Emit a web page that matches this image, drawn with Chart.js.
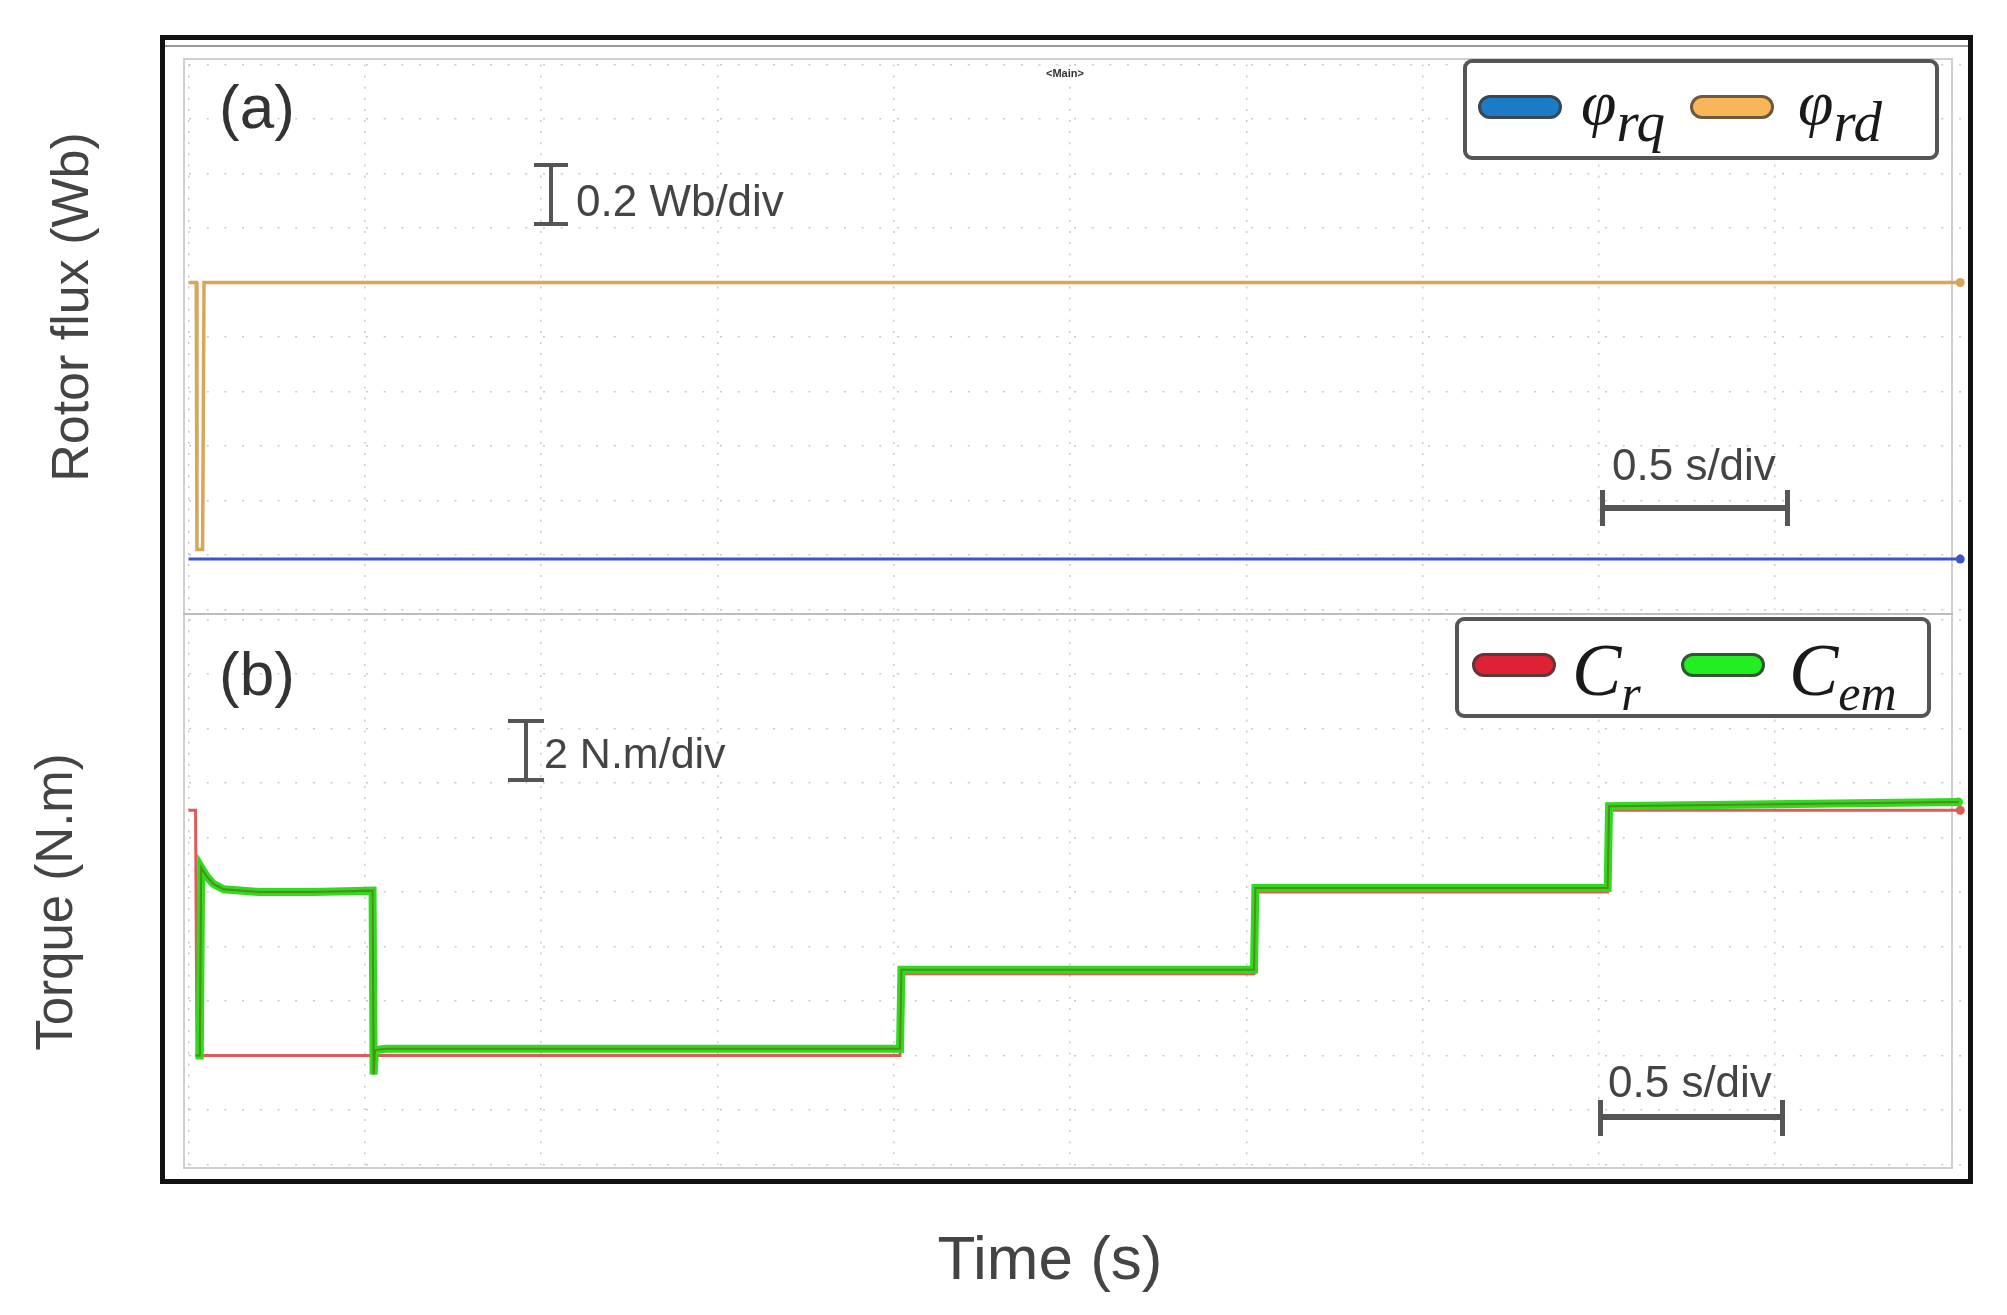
<!DOCTYPE html>
<html>
<head>
<meta charset="utf-8">
<script src="https://cdn.jsdelivr.net/npm/chart.js@4.4.1/dist/chart.umd.min.js"></script>
<style>
  html, body { margin: 0; padding: 0; background: #fff; }
  body { width: 2007px; height: 1315px; position: relative; overflow: hidden; font-family: "Liberation Sans", Arial, sans-serif; }
  .abs { position: absolute; }
  #frame { left: 160px; top: 35px; width: 1813px; height: 1149px; border: 5px solid #111; box-sizing: border-box; }
  #topline { left: 165px; top: 45px; width: 1803px; height: 2px; background: #9a9a9a; }
  #plotBorder { left: 183px; top: 58px; width: 1770px; height: 1111px; border: 2px solid #cfcfcf; box-sizing: border-box; }
  #divider { left: 183px; top: 613px; width: 1770px; height: 2px; background: #bdbdbd; }
  .wrap { left: 184px; width: 1784px; }
  .lbl { color: #444; white-space: nowrap; line-height: 1; }
  .bar { background: #555; }
  .legend { border: 4px solid #555; border-radius: 9px; background: #fff; box-sizing: border-box; }
  .sw { position: absolute; width: 84px; height: 24px; border-radius: 12px; border: 3px solid #3c4650; box-sizing: border-box; }
  .sym { position: absolute; font-family: "Liberation Serif", "DejaVu Serif", serif; font-style: italic; color: #1a1a1a; white-space: nowrap; line-height: 1; }
  .sym sub { vertical-align: baseline; position: relative; top: 0.3em; }
</style>
</head>
<body>

<div id="frame" class="abs"></div>
<div id="topline" class="abs"></div>
<div id="plotBorder" class="abs"></div>

<div class="abs wrap" style="top:60px;height:554px;"><canvas id="fluxChart" width="1784" height="554"></canvas></div>
<div class="abs wrap" style="top:615px;height:554px;"><canvas id="torqueChart" width="1784" height="554"></canvas></div>
<div id="divider" class="abs"></div>

<!-- textes panneau (a) -->
<div class="abs lbl" style="left:1046px;top:68px;font-size:11px;font-weight:bold;color:#333;">&lt;Main&gt;</div>
<div class="abs lbl" style="left:219px;top:76px;font-size:62px;color:#333;">(a)</div>
<div class="abs bar" style="left:549px;top:165px;width:4px;height:60px;"></div>
<div class="abs bar" style="left:534px;top:163px;width:34px;height:4px;"></div>
<div class="abs bar" style="left:534px;top:222px;width:34px;height:4px;"></div>
<div class="abs lbl" style="left:576px;top:179px;font-size:44px;">0.2 Wb/div</div>
<div class="abs lbl" style="left:1612px;top:443px;font-size:44px;">0.5 s/div</div>
<div class="abs bar" style="left:1602px;top:505px;width:186px;height:6px;"></div>
<div class="abs bar" style="left:1600px;top:490px;width:5px;height:36px;"></div>
<div class="abs bar" style="left:1785px;top:490px;width:5px;height:36px;"></div>

<div class="abs legend" style="left:1463px;top:59px;width:476px;height:101px;">
  <div class="sw" style="left:11px;top:32px;background:#1a7cc8;"></div>
  <div class="sym" style="left:114px;top:8px;font-size:64px;">φ<sub style="font-size:57px;">rq</sub></div>
  <div class="sw" style="left:223px;top:32px;background:#f8b55a;border-color:#6b5a40;"></div>
  <div class="sym" style="left:331px;top:8px;font-size:64px;">φ<sub style="font-size:57px;">rd</sub></div>
</div>

<!-- textes panneau (b) -->
<div class="abs lbl" style="left:219px;top:643px;font-size:62px;color:#333;">(b)</div>
<div class="abs bar" style="left:524px;top:721px;width:4px;height:60px;"></div>
<div class="abs bar" style="left:508px;top:719px;width:36px;height:4px;"></div>
<div class="abs bar" style="left:508px;top:778px;width:36px;height:4px;"></div>
<div class="abs lbl" style="left:544px;top:732px;font-size:43px;">2 N.m/div</div>
<div class="abs lbl" style="left:1608px;top:1060px;font-size:44px;">0.5 s/div</div>
<div class="abs bar" style="left:1600px;top:1114px;width:183px;height:6px;"></div>
<div class="abs bar" style="left:1598px;top:1100px;width:5px;height:36px;"></div>
<div class="abs bar" style="left:1780px;top:1100px;width:5px;height:36px;"></div>

<div class="abs legend" style="left:1455px;top:617px;width:476px;height:101px;">
  <div class="sw" style="left:13px;top:32px;background:#dd2233;border-color:#663338;"></div>
  <div class="sym" style="left:113px;top:12px;font-size:74px;">C<sub style="font-size:50px;">r</sub></div>
  <div class="sw" style="left:222px;top:32px;background:#22ee22;border-color:#335533;"></div>
  <div class="sym" style="left:330px;top:12px;font-size:74px;">C<sub style="font-size:50px;">em</sub></div>
</div>

<!-- titres d'axes -->
<div class="abs lbl" style="left:70px;top:307px;font-size:52px;transform:translate(-50%,-50%) rotate(-90deg);">Rotor flux (Wb)</div>
<div class="abs lbl" style="left:54px;top:902px;font-size:51px;transform:translate(-50%,-50%) rotate(-90deg);">Torque (N.m)</div>
<div class="abs lbl" style="left:1050px;top:1258px;font-size:62px;transform:translate(-50%,-50%);">Time (s)</div>

<script>
/* ------------------------- DATA (lue sur l'oscillogramme) ------------------------- */
// (a) flux rotorique, 0.2 Wb/div, 0.5 s/div
const phiRqT = [0, 5.025];
const phiRqV = [-0.015, -0.015];
const phiRdT = [0, 0.022, 0.024, 0.040, 0.044, 1.5, 3.0, 4.2, 5.025];
const phiRdV = [1.0, 1.0, 0.02, 0.02, 1.0, 1.0, 1.0, 1.0, 1.0];

// (b) couple, 2 N.m/div
const crT = [0, 0.02, 0.024, 2.018, 2.021, 3.022, 3.025, 4.025, 4.028, 5.025];
const crV = [9, 9, 0, 0, 3, 3, 6, 6, 9, 9];
const cemT = [0.02, 0.032, 0.036, 0.05, 0.07, 0.10, 0.20, 0.35, 0.522, 0.525, 0.529, 0.56, 2.018, 2.022, 3.022, 3.026, 4.025, 4.029, 5.02];
const cemV = [0, 0, 6.9, 6.6, 6.3, 6.1, 6.0, 6.0, 6.05, -0.7, 0.2, 0.25, 0.25, 3.15, 3.15, 6.15, 6.15, 9.15, 9.3];

// échelles : 10 divisions dans chaque sens (la trace dépasse un peu à droite)
const timeTicks = { min: 0, max: 5.03, step: 0.5 };
const fluxTicks = { min: -0.2, max: 1.8, step: 0.2 };
const torqueTicks = { min: -4, max: 16, step: 2 };

/* ------------------------- helpers ------------------------- */
const pts = (T, V) => T.map((t, i) => ({ x: t, y: V[i] }));

function trace(label, T, V, color, width, dot) {
    return {
        label,
        data: pts(T, V),
        borderColor: color,
        backgroundColor: color,
        borderWidth: width,
        pointRadius: T.map((_, i) => (dot && i === T.length - 1 ? 4.5 : 0)),
        pointHoverRadius: 0,
        pointBorderWidth: 0,
        tension: 0,
        clip: false
    };
}

function scopeOptions(yt) {
    return {
        responsive: false,
        animation: false,
        devicePixelRatio: 1,
        layout: { padding: { left: 0, right: 6, top: 0, bottom: 0 } },
        plugins: { legend: { display: false }, tooltip: { enabled: false } },
        scales: {
            x: {
                type: 'linear', min: timeTicks.min, max: timeTicks.max,
                ticks: { display: false, stepSize: timeTicks.step, includeBounds: false },
                grid: { color: '#c9c9c9', lineWidth: 1.5, drawTicks: false },
                border: { display: false, dash: [2, 9.1] }
            },
            y: {
                min: yt.min, max: yt.max,
                ticks: { display: false, stepSize: yt.step },
                grid: { color: '#c9c9c9', lineWidth: 1.5, drawTicks: false },
                border: { display: false, dash: [2, 15.7] }
            }
        }
    };
}

/* ------------------------- Charts ------------------------- */
new Chart(document.getElementById('fluxChart').getContext('2d'), {
    type: 'line',
    data: {
        datasets: [
            trace('φrd', phiRdT, phiRdV, '#d9a55a', 3.5, true),
            trace('φrq', phiRqT, phiRqV, '#3d55c8', 3, true)
        ]
    },
    options: scopeOptions(fluxTicks)
});

new Chart(document.getElementById('torqueChart').getContext('2d'), {
    type: 'line',
    data: {
        datasets: [
            trace('Cem (coeur)', cemT, cemV, '#4a9212', 2, false),
            trace('Cem', cemT, cemV, '#33d820', 8, true),
            trace('Cr', crT, crV, '#e05a5a', 3, true)
        ]
    },
    options: scopeOptions(torqueTicks)
});
</script>
</body>
</html>
